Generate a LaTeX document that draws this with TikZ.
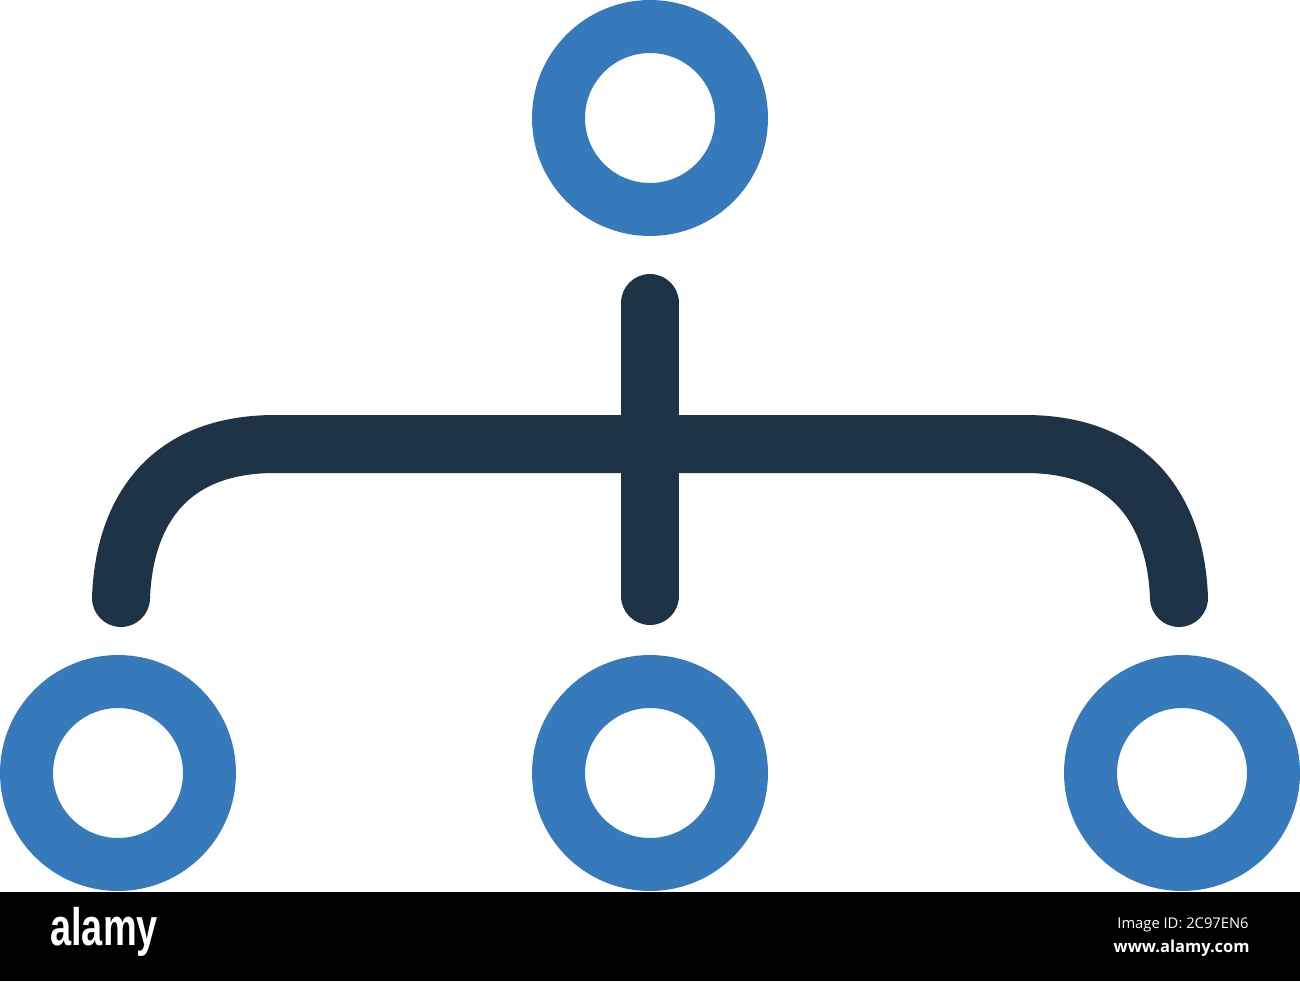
\documentclass[tikz,border=0pt]{standalone}
\usepackage{fontspec}
\setmainfont{Open Sans}
\newfontfamily\stampfont{Liberation Sans}
\usepackage{tikz}
\usetikzlibrary{calc,positioning}

\definecolor{ringblue}{RGB}{55,122,187}
\definecolor{linkdark}{RGB}{30,51,70}

\begin{document}
\begin{tikzpicture}[x=0.02cm,y=-0.02cm,
				ring/.style = {circle, draw=ringblue, line width=1.06cm, minimum size=3.66cm, inner sep=0pt},
				link/.style = {draw=linkdark, line width=1.16cm, line cap=round},
				stamp/.style = {white, inner sep=0pt, anchor=base east},
			]
			\useasboundingbox (0,0) rectangle (1300,981);

			% circles
			\node[ring] (top) at (650,118) {};
			\node[ring] (left) at (118,773) {};
			\node[ring] (mid) at (650,773) {};
			\node[ring] (right) at (1182,773) {};

			% connectors
			\coordinate (hubtop) at (650,303);
			\coordinate (hubbot) at (650,596);
			\coordinate (lend) at (121,598);
			\coordinate (rend) at (1179,598);
			\draw[link] (hubtop) -- (hubbot);
			\draw[link] (lend) .. controls (124,515) and (165,444) .. (275,444)
				-- (1025,444) .. controls (1135,444) and (1176,515) .. (rend);

			% stamp bar
			\fill[black] (0,892) rectangle (1300,981);
			\node[white, inner sep=0pt, anchor=base west, xscale=0.72, font=\stampfont\bfseries\fontsize{30}{30}\selectfont] (logo) at (50,945) {alamy};
			\node[stamp, font=\fontsize{8.4}{10}\selectfont] (imgid) at (1249,928) {Image ID: 2C97EN6};
			\node[stamp, font=\bfseries\fontsize{9.4}{11}\selectfont] (site) at (1250,952) {www.alamy.com};
		\end{tikzpicture}
\end{document}
